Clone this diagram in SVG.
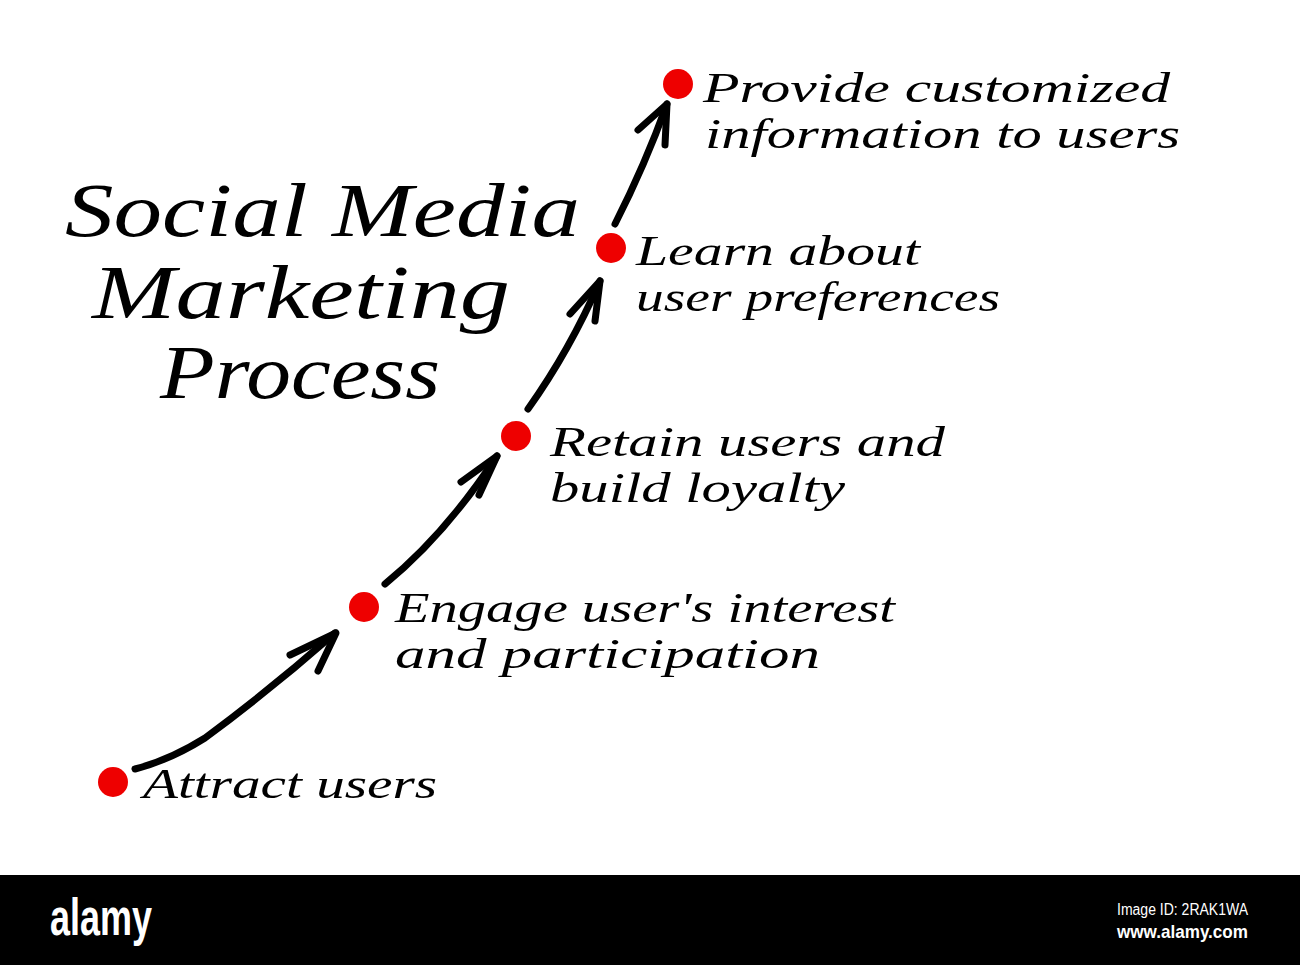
<svg xmlns="http://www.w3.org/2000/svg" width="1300" height="965" viewBox="0 0 1300 965">
<style>
.lbl{font-family:"Liberation Serif","DejaVu Serif",serif;font-style:italic;font-size:42px;fill:#000}
.ttl{font-family:"Liberation Serif","DejaVu Serif",serif;font-style:italic;font-size:76px;fill:#000}
.dot{fill:#ee0000}
.arr{fill:none;stroke:#000;stroke-width:7;stroke-linecap:round;stroke-linejoin:round}
</style>
<rect width="1300" height="965" fill="#fff"/>
<g id="title">
<text class="ttl" x="65" y="236" textLength="515" lengthAdjust="spacingAndGlyphs">Social Media</text>
<text class="ttl" x="92" y="318" textLength="418" lengthAdjust="spacingAndGlyphs">Marketing</text>
<text class="ttl" x="160" y="398" textLength="280" lengthAdjust="spacingAndGlyphs">Process</text>
</g>
<g id="node-attract">
<circle class="dot" cx="113" cy="782" r="15"/>
<text class="lbl" x="143" y="798" textLength="294" lengthAdjust="spacingAndGlyphs">Attract users</text>
</g>
<g id="node-engage">
<circle class="dot" cx="364" cy="607" r="15"/>
<text class="lbl" x="395" y="622" textLength="500" lengthAdjust="spacingAndGlyphs">Engage user's interest</text>
<text class="lbl" x="395" y="668" textLength="425" lengthAdjust="spacingAndGlyphs">and participation</text>
</g>
<g id="node-retain">
<circle class="dot" cx="516" cy="436" r="15"/>
<text class="lbl" x="550" y="456" textLength="395" lengthAdjust="spacingAndGlyphs">Retain users and</text>
<text class="lbl" x="550" y="502" textLength="295" lengthAdjust="spacingAndGlyphs">build loyalty</text>
</g>
<g id="node-learn">
<circle class="dot" cx="611" cy="248" r="15"/>
<text class="lbl" x="636" y="265" textLength="284" lengthAdjust="spacingAndGlyphs">Learn about</text>
<text class="lbl" x="636" y="311" textLength="364" lengthAdjust="spacingAndGlyphs">user preferences</text>
</g>
<g id="node-provide">
<circle class="dot" cx="678" cy="84" r="15"/>
<text class="lbl" x="703" y="102" textLength="467" lengthAdjust="spacingAndGlyphs">Provide  customized</text>
<text class="lbl" x="705" y="148" textLength="475" lengthAdjust="spacingAndGlyphs">information to users</text>
</g>
<g id="connectors">
<path class="arr" d="M135,769 Q170,760 205,738 Q270,690 335,633"/>
<path class="arr" d="M290,655 L336,633 L318,671"/>
<path class="arr" d="M385,584 Q445,535 497,456"/>
<path class="arr" d="M461,482 L497,456 L479,495"/>
<path class="arr" d="M528,409 Q570,350 600,281"/>
<path class="arr" d="M570,314 L600,281 L595,321"/>
<path class="arr" d="M615,224 Q645,165 667,104"/>
<path class="arr" d="M638,130 L667,104 L665,145"/>
</g>
<g id="footer">
<rect x="0" y="875" width="1300" height="90" fill="#000"/>
<text x="50" y="935" font-family="Liberation Sans Narrow,Liberation Sans,sans-serif" font-weight="bold" font-size="52" fill="#fff" textLength="102" lengthAdjust="spacingAndGlyphs">alamy</text>
<text x="1117" y="915" font-family="Liberation Sans,sans-serif" font-size="16" fill="#fff" textLength="131" lengthAdjust="spacingAndGlyphs">Image ID: 2RAK1WA</text>
<text x="1117" y="938" font-family="Liberation Sans,sans-serif" font-weight="bold" font-size="19" fill="#fff" textLength="131" lengthAdjust="spacingAndGlyphs">www.alamy.com</text>
</g>
</svg>
